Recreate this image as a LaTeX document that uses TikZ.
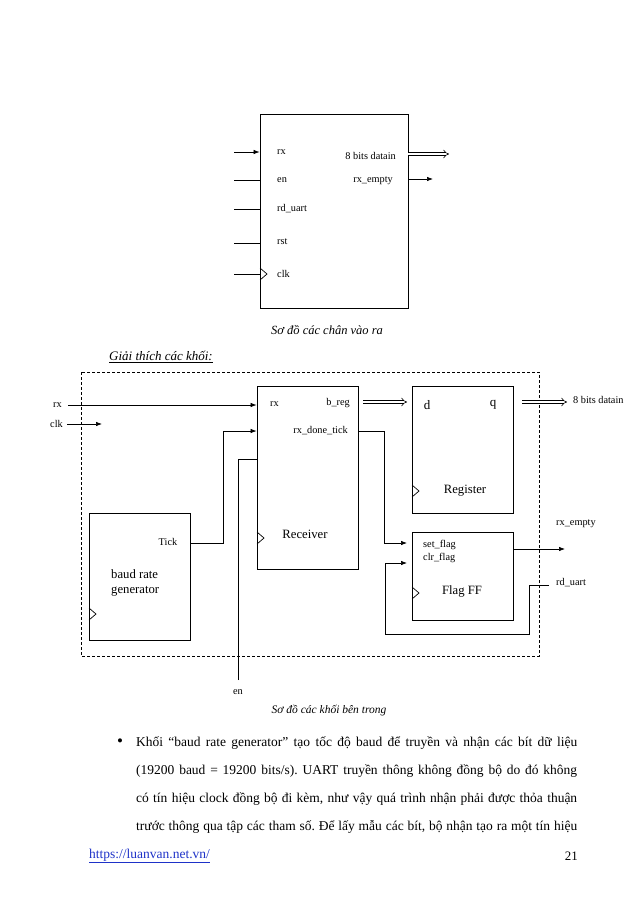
\documentclass[tikz,border=0pt]{standalone}
\usepackage{fontspec}
\setmainfont{Liberation Serif}
\usetikzlibrary{arrows.meta}
\definecolor{linkblue}{RGB}{30,50,200}
\frenchspacing
\begin{document}
\begin{tikzpicture}[x=1pt,y=-1pt,
  box/.style={draw,line width=0.8pt,inner sep=0pt,fill=none},
  wire/.style={line width=0.7pt},
  arr/.style={wire,-{Latex[length=6pt,width=4.5pt]}},
  bus/.style={double,double distance=2.4pt,line width=0.6pt,-{Implies}},
  lbl/.style={inner sep=0pt,font=\fontsize{10.3}{12}\selectfont},
  big/.style={inner sep=0pt,font=\fontsize{12.7}{14}\selectfont},
  captxt/.style={inner sep=0pt,font=\fontsize{12.5}{14}\selectfont\itshape},
  body/.style={inner sep=0pt,anchor=west,font=\fontsize{13.5}{15}\selectfont\frenchspacing}]
\useasboundingbox (0,0) rectangle (638,902);

% ---------- top block ----------
\node[box,minimum width=148pt,minimum height=194pt] (top) at (334,211) {};
\coordinate (trx) at (234,152);
\coordinate (ten) at (234,180);
\coordinate (trd) at (234,209);
\coordinate (trst) at (234,243);
\coordinate (tclk) at (234,274);
\draw[arr] (trx) -- (trx -| top.west);
\draw[wire] (ten) -- (ten -| top.west);
\draw[wire] (trd) -- (trd -| top.west);
\draw[wire] (trst) -- (trst -| top.west);
\draw[wire] (tclk) -- (tclk -| top.west);
\draw[wire] (260,268) -- (267,274) -- (260,280);
\node[lbl,anchor=west] (l1) at (277,152) {rx};
\node[lbl,anchor=west] (l2) at (277,180) {en};
\node[lbl,anchor=west] (l3) at (277,209) {rd\_uart};
\node[lbl,anchor=west] (l4) at (277,242) {rst};
\node[lbl,anchor=west] (l5) at (277,274) {clk};
\node[lbl,anchor=east] (l6) at (396,156) {8 bits datain};
\node[lbl,anchor=east] (l7) at (393,181) {rx\_empty};
\coordinate (tdat) at (449,154);
\coordinate (temp) at (433,179);
\draw[bus] (tdat -| top.east) -- (tdat);
\draw[arr] (temp -| top.east) -- (temp);
\node[captxt] (cap1) at (327,330) {Sơ đồ các chân vào ra};

% ---------- heading ----------
\node[inner sep=0pt,anchor=west,font=\fontsize{13}{15}\selectfont\itshape] (head) at (109,357) {\underline{Giải thích các khối:}};

% ---------- inner blocks ----------
\draw[line width=0.7pt,dash pattern=on 3pt off 2pt] (81,372) rectangle (539,656);
\node[box,minimum width=101pt,minimum height=183pt] (rec) at (307.5,477.5) {};
\node[box,minimum width=101pt,minimum height=127pt] (reg) at (462.5,449.5) {};
\node[box,minimum width=101pt,minimum height=88pt] (flag) at (462.5,576) {};
\node[box,minimum width=101pt,minimum height=127pt] (baud) at (139.5,576.5) {};

% clock marks
\draw[wire] (257,532) -- (264,538) -- (257,544);
\draw[wire] (412,485) -- (419,491) -- (412,497);
\draw[wire] (412,587) -- (419,593) -- (412,599);
\draw[wire] (89,608) -- (96,614) -- (89,620);

% labels
\node[lbl,anchor=west] (rrx) at (270,404) {rx};
\node[lbl,anchor=east] (rbreg) at (350,403) {b\_reg};
\node[lbl,anchor=east] (rdone) at (348,431) {rx\_done\_tick};
\node[big] (rname) at (305,534) {Receiver};
\node[font=\fontsize{13}{15}\selectfont,inner sep=0pt] (gd) at (427,405) {d};
\node[font=\fontsize{13}{15}\selectfont,inner sep=0pt] (gq) at (493,405) {q};
\node[big] (gname) at (465,491) {Register};
\node[lbl,anchor=west] (fset) at (423,545) {set\_flag};
\node[lbl,anchor=west] (fclr) at (423,558) {clr\_flag};
\node[big] (fname) at (462,591) {Flag FF};
\node[lbl] (btick) at (168,542) {Tick};
\node[big,anchor=west] (bn1) at (111,574) {baud rate};
\node[big,anchor=west] (bn2) at (111,591) {generator};

% external labels
\node[lbl,anchor=east] (xrx) at (62,405) {rx};
\node[lbl,anchor=east] (xclk) at (63,424) {clk};
\node[lbl] (xen) at (238,692) {en};
\node[lbl,anchor=west] (xdat) at (573,400) {8 bits datain};
\node[lbl,anchor=west] (xemp) at (556,524) {rx\_empty};
\node[lbl,anchor=west] (xrd) at (556,583) {rd\_uart};

% connectors
\coordinate (rxs) at (68,405);
\draw[arr] (rxs) -- (rxs -| rec.west);
\coordinate (clks) at (67,424);
\coordinate (clke) at (102,424);
\draw[arr] (clks) -- (clke);
\coordinate (ticks) at (190,543);
\draw[arr] (ticks) -- (223,543) -- (223,431) -- (rec.west |- 0,431);
\coordinate (ens) at (238,680);
\draw[wire] (ens) -- (238,459) -- (rec.west |- 0,459);
\coordinate (breg) at (363,402);
\coordinate (bregd) at (407,402);
\draw[bus] (breg) -- (bregd);
\coordinate (qs) at (522,402);
\coordinate (qe) at (567,402);
\draw[bus] (qs) -- (qe);
\draw[arr] (rec.east |- 0,431) -- (384,431) -- (384,543) -- (407,543);
\coordinate (empe) at (565,549);
\draw[arr] (flag.east |- empe) -- (empe);
\coordinate (rds) at (549,585);
\draw[arr] (rds) -- (529,585) -- (529,634) -- (385,634) -- (385,563) -- (407,563);

\node[inner sep=0pt,font=\fontsize{11.5}{14}\selectfont\itshape] (cap2) at (329,711) {Sơ đồ các khối bên trong};

% ---------- body text ----------
\node[inner sep=0pt,font=\fontsize{17}{15}\selectfont] (bul) at (120,743) {\textbullet};
\node[body] (t1) at (136,743) {\makebox[441pt][s]{Khối “baud rate generator” tạo tốc độ baud để truyền và nhận các bít dữ liệu}};
\node[body] (t2) at (136,771) {\makebox[441pt][s]{(19200 baud = 19200 bits/s). UART truyền thông không đồng bộ do đó không}};
\node[body] (t3) at (136,799) {\makebox[441pt][s]{có tín hiệu clock đồng bộ đi kèm, như vậy quá trình nhận phải được thỏa thuận}};
\node[body] (t4) at (136,827) {\makebox[441pt][s]{trước thông qua tập các tham số. Để lấy mẫu các bít, bộ nhận tạo ra một tín hiệu}};

% ---------- footer ----------
\node[body,text=linkblue] (url) at (89,856) {\underline{https://luanvan.net.vn/}};
\node[inner sep=0pt,anchor=east,font=\fontsize{12.9}{15}\selectfont] (pg) at (578,856) {21};
\end{tikzpicture}
\end{document}
